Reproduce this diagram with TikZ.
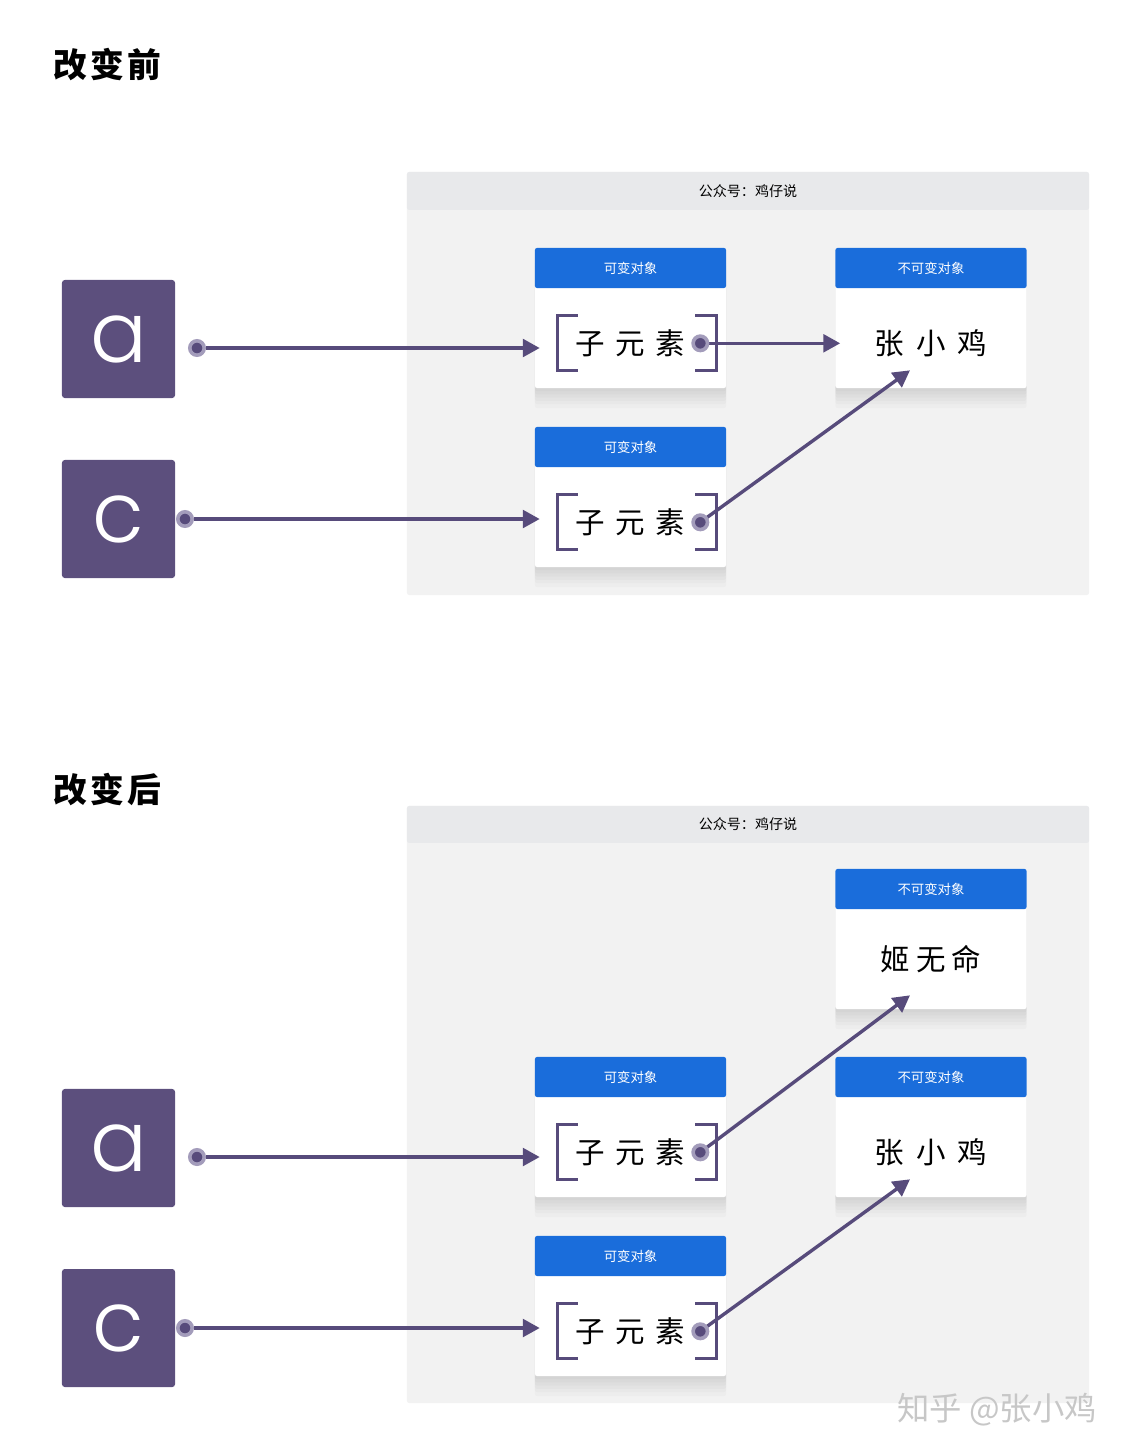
\documentclass[tikz,border=0pt]{standalone}
\usepackage{fontspec}
\newfontfamily\cjk{Noto Sans CJK SC}
\newfontfamily\latin{Poppins Light}
\usetikzlibrary{positioning, calc, arrows.meta}
\definecolor{varpurple}{HTML}{5C4F7D}
\definecolor{linepurple}{HTML}{574B7B}
\definecolor{halopurple}{HTML}{A39CBB}
\definecolor{headblue}{HTML}{1A6DDB}
\definecolor{panelheadgray}{HTML}{E8E9EB}
\definecolor{panelgray}{HTML}{F2F2F2}
\tikzset{>={Triangle[length=0.42cm,width=0.44cm]},
    softshadow/.style={preaction={fill=black, fill opacity=0.018, transform canvas={yshift=-#1}}}}

\begin{document}
\begin{tikzpicture}[x=0.025cm, y=-0.025cm,
    varbox/.style={fill=varpurple, rounded corners=0.07cm, minimum width=2.825cm, minimum height=2.95cm, inner sep=0, text=white, font=\latin\fontsize{60}{60}\selectfont},
    dot/.style={circle, fill=linepurple, draw=halopurple, line width=0.09cm, minimum size=0.36cm, inner sep=0},
    panelbody/.style={fill=panelgray, rounded corners=0.06cm, minimum width=17.05cm, inner sep=0},
    panelhead/.style={fill=panelheadgray, rounded corners=0.06cm, minimum width=17.05cm, minimum height=0.95cm, inner sep=0, font=\cjk\fontsize{10}{12}\selectfont},
    objbox/.style={fill=white, rounded corners=0.05cm, minimum width=4.775cm, minimum height=3.5cm, inner sep=0,
        softshadow=0.08cm, softshadow=0.16cm, softshadow=0.24cm, softshadow=0.32cm, softshadow=0.4cm, softshadow=0.5cm},
    objhead/.style={fill=headblue, text=white, rounded corners=0.05cm, minimum width=4.775cm, minimum height=1cm, inner sep=0, font=\cjk\fontsize{9.5}{11}\selectfont},
    objtext/.style={inner sep=0, font=\cjk\fontsize{21}{24}\selectfont},
    bracket/.style={draw=linepurple, line width=0.085cm},
    link/.style={draw=linepurple, line width=0.085cm, ->},
    title/.style={inner sep=0, font=\cjk\bfseries\fontsize{24}{28}\selectfont}]
    \useasboundingbox (0,0) rectangle (1132,1456);

    % before
    \node[title] (before) at (107,65) {改\hspace{0.1em}变\hspace{0.1em}前};
    \node[panelbody, minimum height=10.575cm] (p1) at (748,383.5) {};
    \node[panelhead, below=0pt of p1.north] (p1h) {公众号：鸡仔说};

    \node[varbox] (a1) at (118.5,339) {a};
    \node[varbox] (c1) at (118.5,519) {c};
    \node[dot] (a1-dot) at (197,348) {};
    \node[dot] (c1-dot) at (185,519) {};

    \node[objbox] (m1) at (630.5,318) {};
    \node[objbox] (im1) at (931,318) {};
    \node[objbox] (m2) at (630.5,497) {};

    % after
    \node[title] (after) at (107,790) {改\hspace{0.1em}变\hspace{0.1em}后};
    \node[panelbody, minimum height=14.925cm] (p2) at (748,1104.5) {};
    \node[panelhead, minimum height=0.925cm, below=0pt of p2.north] (p2h) {公众号：鸡仔说};

    \node[varbox] (a2) at (118.5,1148) {a};
    \node[varbox] (c2) at (118.5,1328) {c};
    \node[dot] (a2-dot) at (197,1157) {};
    \node[dot] (c2-dot) at (185,1328) {};

    \node[objbox] (im2) at (931,939) {};
    \node[objbox] (m3) at (630.5,1127) {};
    \node[objbox] (im3) at (931,1127) {};
    \node[objbox] (m4) at (630.5,1306) {};

    % headers, texts, brackets
    \foreach \m in {m1,m2,m3,m4} {
        \node[objhead, below=0pt of \m.north] (\m-head) {可变对象};
        \node[objtext] (\m-text) at ($(\m.south)+(0,-45)$) {子\hspace{0.35em}元\hspace{0.35em}素};
        \draw[bracket] ($(\m.south west)+(43,-73)$) -| ($(\m.south west)+(23,-18)$) -- ++(20,0);
        \draw[bracket] ($(\m.south east)+(-31,-73)$) -| ($(\m.south east)+(-10,-18)$) -- ++(-21,0);
    }
    \foreach \i in {im1,im2,im3}
        \node[objhead, below=0pt of \i.north] (\i-head) {不可变对象};
    \node[objtext] (im1-text) at ($(im1.south)+(0,-45)$) {张\hspace{0.4em}小\hspace{0.4em}鸡};
    \node[objtext] (im2-text) at ($(im2.south)+(0,-50)$) {姬\hspace{0.2em}无\hspace{0.2em}命};
    \node[objtext] (im3-text) at ($(im3.south)+(0,-45)$) {张\hspace{0.4em}小\hspace{0.4em}鸡};

    \path
        (a1-dot) edge[link] ($(a1-dot -| m1.west)+(5,0)$)
        (c1-dot) edge[link] ($(c1-dot -| m2.west)+(5,0)$)
        (a2-dot) edge[link] ($(a2-dot -| m3.west)+(5,0)$)
        (c2-dot) edge[link] ($(c2-dot -| m4.west)+(5,0)$)
    ;
    \foreach \m in {m1,m2,m3,m4}
        \coordinate (\m-c) at ($(\m.south east)+(-26,-45)$);
    \path
        (m1-c) edge[link] ($(m1-c -| im1.west)+(5,0)$)
        (m2-c) edge[link] ($(im1.south)+(-21,-18)$)
        (m3-c) edge[link] ($(im2.south)+(-21,-14)$)
        (m4-c) edge[link] ($(im3.south)+(-21,-18)$)
    ;
    \foreach \m in {m1,m2,m3,m4}
        \node[dot] (\m-dot) at (\m-c) {};

    \node[inner sep=0, text=black!22, font=\cjk\fontsize{23}{26}\selectfont] (mark) at (997,1410) {知乎 @张小鸡};
\end{tikzpicture}
\end{document}
